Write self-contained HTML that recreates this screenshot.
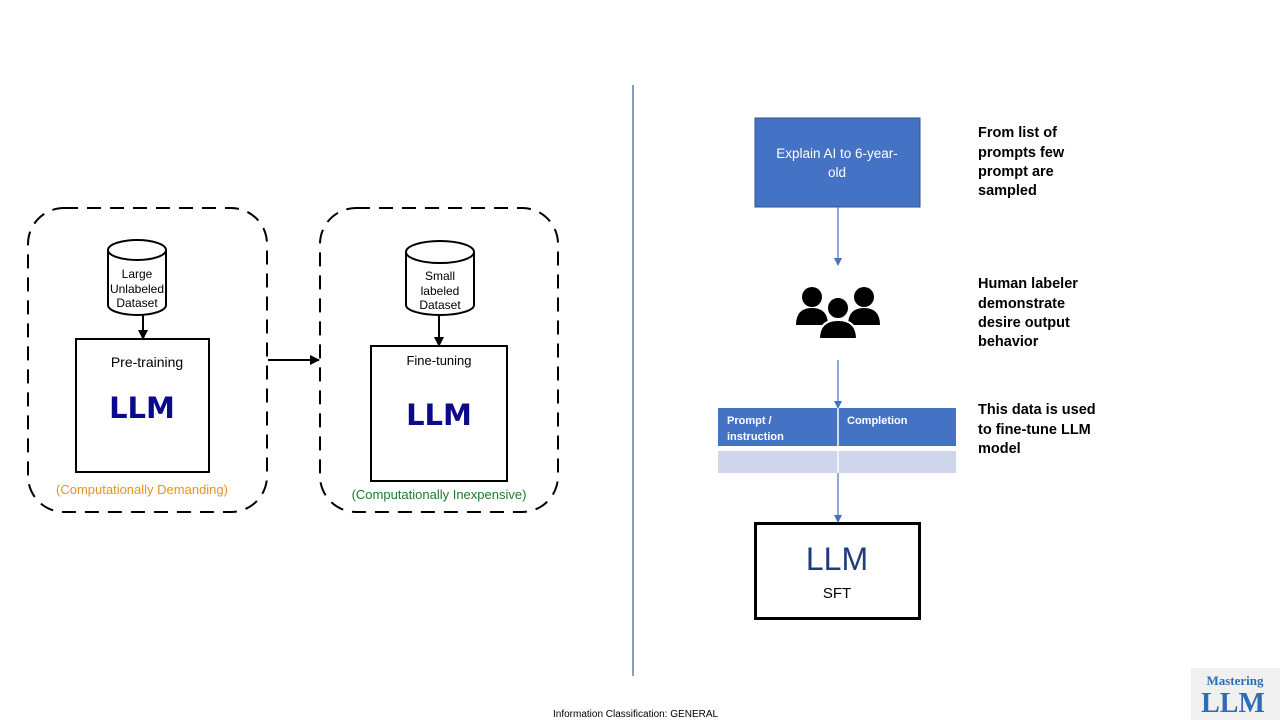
<!DOCTYPE html>
<html><head><meta charset="utf-8"><style>
html,body{margin:0;padding:0;background:#fff;width:1280px;height:720px;overflow:hidden}
svg text{font-family:"Liberation Sans",sans-serif}
</style></head><body>
<svg width="1280" height="720" viewBox="0 0 1280 720" xmlns="http://www.w3.org/2000/svg">
<defs>
<marker id="ab" markerWidth="10" markerHeight="10" refX="9" refY="5" orient="auto" markerUnits="userSpaceOnUse"><path d="M0,0 L10,5 L0,10 z" fill="#000"/></marker>
<marker id="bl" markerWidth="8" markerHeight="8" refX="7" refY="4" orient="auto" markerUnits="userSpaceOnUse"><path d="M0,0 L8,4 L0,8 z" fill="#4472c4"/></marker>
</defs>
<rect x="28" y="208" width="239" height="304" rx="36" fill="none" stroke="#000" stroke-width="2" stroke-dasharray="14,9"/>
<rect x="320" y="208" width="238" height="304" rx="36" fill="none" stroke="#000" stroke-width="2" stroke-dasharray="14,9"/>
<!-- cylinder 1 -->
<path d="M108,250 L108,305 A29,10 0 0 0 166,305 L166,250" fill="#fff" stroke="#000" stroke-width="2"/>
<ellipse cx="137" cy="250" rx="29" ry="10" fill="#fff" stroke="#000" stroke-width="2"/>
<text x="137" y="278" font-size="12" text-anchor="middle">Large</text>
<text x="137" y="293" font-size="12" text-anchor="middle">Unlabeled</text>
<text x="137" y="307" font-size="12" text-anchor="middle">Dataset</text>
<line x1="143" y1="315" x2="143" y2="339" stroke="#000" stroke-width="2" marker-end="url(#ab)"/>
<rect x="76" y="339" width="133" height="133" fill="#fff" stroke="#000" stroke-width="2"/>
<text x="147" y="367" font-size="14" text-anchor="middle">Pre-training</text>
<text x="142" y="418" font-size="29" font-weight="bold" fill="#0a0a8a" text-anchor="middle" style="font-family:'DejaVu Sans',sans-serif">LLM</text>
<text x="142" y="494" font-size="13" fill="#e69522" text-anchor="middle">(Computationally Demanding)</text>
<line x1="268" y1="360" x2="319" y2="360" stroke="#000" stroke-width="2" marker-end="url(#ab)"/>
<!-- cylinder 2 -->
<path d="M406,252 L406,305 A34,10 0 0 0 474,305 L474,252" fill="#fff" stroke="#000" stroke-width="2"/>
<ellipse cx="440" cy="252" rx="34" ry="11" fill="#fff" stroke="#000" stroke-width="2"/>
<text x="440" y="280" font-size="12" text-anchor="middle">Small</text>
<text x="440" y="295" font-size="12" text-anchor="middle">labeled</text>
<text x="440" y="309" font-size="12" text-anchor="middle">Dataset</text>
<line x1="439" y1="315" x2="439" y2="346" stroke="#000" stroke-width="2" marker-end="url(#ab)"/>
<rect x="371" y="346" width="136" height="135" fill="#fff" stroke="#000" stroke-width="2"/>
<text x="439" y="365" font-size="13" text-anchor="middle">Fine-tuning</text>
<text x="439" y="425" font-size="29" font-weight="bold" fill="#0a0a8a" text-anchor="middle" style="font-family:'DejaVu Sans',sans-serif">LLM</text>
<text x="439" y="499" font-size="13" fill="#1e7a2e" text-anchor="middle">(Computationally Inexpensive)</text>
<line x1="633" y1="85" x2="633" y2="676" stroke="#5b7fa8" stroke-width="1.5"/>
<rect x="755" y="118" width="165" height="89" fill="#4472c4" stroke="#2f528f" stroke-width="1"/>
<text x="837" y="158" font-size="13.5" fill="#fff" text-anchor="middle">Explain AI to 6-year-</text>
<text x="837" y="177" font-size="13.5" fill="#fff" text-anchor="middle">old</text>
<line x1="838" y1="207" x2="838" y2="265" stroke="#4472c4" stroke-width="1.2" marker-end="url(#bl)"/>
<g fill="#000">
<circle cx="812" cy="297" r="10"/><path d="M796,325 Q796,308 812,308 Q828,308 828,325 z"/>
<circle cx="864" cy="297" r="10"/><path d="M848,325 Q848,308 864,308 Q880,308 880,325 z"/>
<circle cx="838" cy="308" r="11" stroke="#fff" stroke-width="2"/><path d="M819,339 Q819,320 838,320 Q857,320 857,339 z" stroke="#fff" stroke-width="2"/>
</g>
<line x1="838" y1="360" x2="838" y2="408" stroke="#4472c4" stroke-width="1.2" marker-end="url(#bl)"/>
<rect x="718" y="408" width="238" height="38" fill="#4472c4"/>
<rect x="718" y="451" width="238" height="22" fill="#cfd5ea"/>
<line x1="838" y1="408" x2="838" y2="473" stroke="#fff" stroke-width="1.5"/>
<text x="727" y="424" font-size="11" font-weight="bold" fill="#fff">Prompt /</text>
<text x="727" y="440" font-size="11" font-weight="bold" fill="#fff">instruction</text>
<text x="847" y="424" font-size="11" font-weight="bold" fill="#fff">Completion</text>
<line x1="838" y1="473" x2="838" y2="522" stroke="#4472c4" stroke-width="1.2" marker-end="url(#bl)"/>
<rect x="755.5" y="523.5" width="164" height="95" fill="#fff" stroke="#000" stroke-width="3"/>
<text x="837" y="570" font-size="32" fill="#1f3d7a" text-anchor="middle">LLM</text>
<text x="837" y="598" font-size="15" text-anchor="middle">SFT</text>
<g font-size="14.5" font-weight="bold">
<text x="978" y="137">From list of</text><text x="978" y="157">prompts few</text><text x="978" y="176">prompt are</text><text x="978" y="195">sampled</text>
<text x="978" y="288">Human labeler</text><text x="978" y="308">demonstrate</text><text x="978" y="327">desire output</text><text x="978" y="346">behavior</text>
<text x="978" y="414">This data is used</text><text x="978" y="434">to fine-tune LLM</text><text x="978" y="453">model</text>
</g>
<text x="553" y="717" font-size="10">Information Classification: GENERAL</text>
<rect x="1191" y="668" width="89" height="52" fill="#f0f0f0"/>
<text x="1235" y="685" font-size="13" font-weight="bold" fill="#2e6db4" text-anchor="middle" style="font-family:'Liberation Serif',serif">Mastering</text>
<text x="1233" y="712" font-size="28" font-weight="bold" fill="#2e6db4" text-anchor="middle" style="font-family:'Liberation Serif',serif">LLM</text>
</svg>
</body></html>
